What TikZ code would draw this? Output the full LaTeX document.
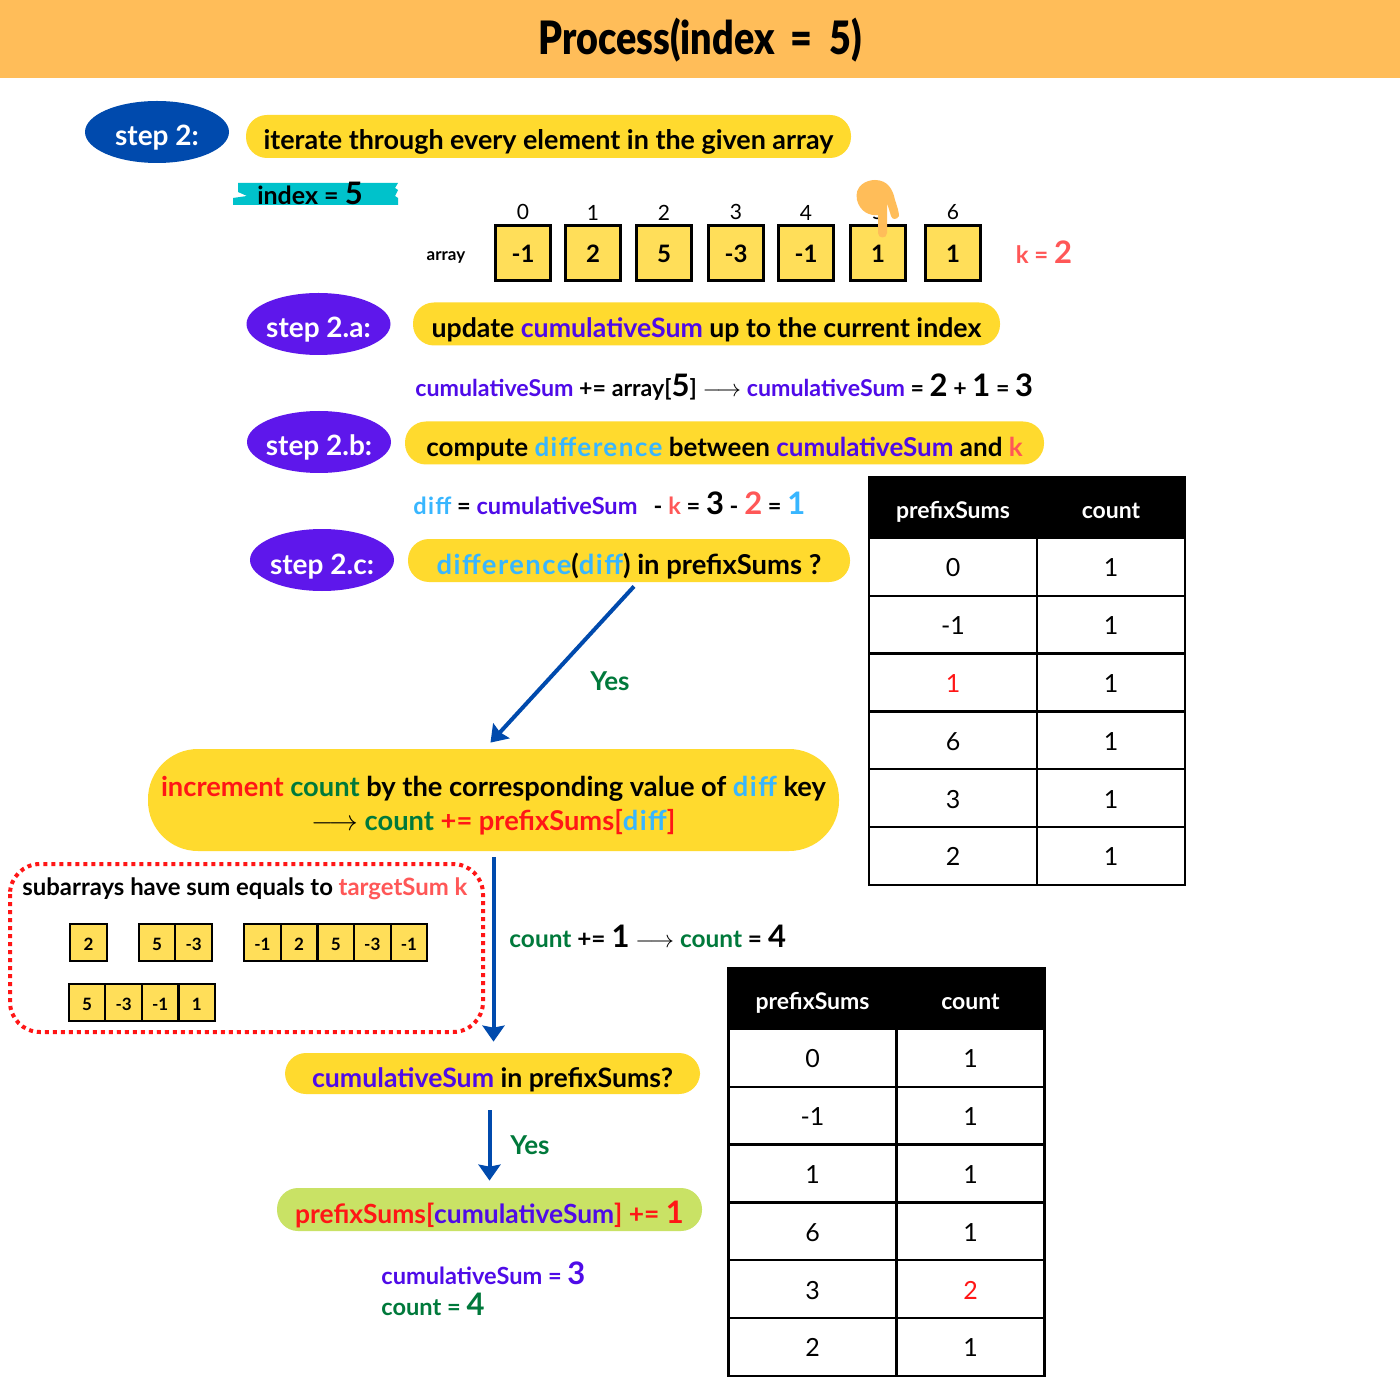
\documentclass[tikz,border=0pt]{standalone}
\usepackage{fontspec}
\setmainfont{Lato}
\newfontfamily\titlefont[FakeStretch=0.82]{Lato Black}
\usetikzlibrary{arrows.meta,positioning,shapes.geometric}
\definecolor{headbar}{HTML}{FFBD59}
\definecolor{ypill}{HTML}{FFDA2E}
\definecolor{ycell}{HTML}{FFDE59}
\definecolor{gpill}{HTML}{C9E265}
\definecolor{tagc}{HTML}{00C2CB}
\definecolor{flowc}{HTML}{004AAD}
\definecolor{stepc}{HTML}{5E17EB}
\definecolor{cumul}{HTML}{4F0BE8}
\definecolor{diffc}{HTML}{38B6FF}
\definecolor{redc}{HTML}{FF1616}
\definecolor{coral}{HTML}{FF5757}
\definecolor{greenc}{HTML}{00793B}
\newcommand{\csum}{\textcolor{cumul}{cumulativeSum}}
\newcommand{\fsz}[1]{\fontsize{#1}{#1}\selectfont}
\newcommand{\dg}[1]{{\fsz{15.5}#1}}
\newcommand{\dff}[1]{\textcolor{diffc}{\addfontfeature{LetterSpace=5.4}#1}}
\begin{document}
\begin{tikzpicture}[x=0.5pt,y=-0.5pt,>=Stealth,
	   txt/.style={font=\fsz{13}\bfseries, inner sep=0pt, align=left},
	   pill/.style={font=\fsz{13}\bfseries, inner sep=0pt, rectangle, rounded corners=10.5pt, fill=ypill, minimum height=21.5pt, text height=13.5pt, text depth=0pt},
	   blob/.style={ellipse, fill=stepc, text=white, font=\fsz{14}\bfseries, minimum width=72pt, minimum height=31pt, inner sep=-10pt, text height=14pt, text depth=0pt},
	   cell/.style={draw, line width=1.4pt, fill=ycell, minimum width=27.5pt, minimum height=27.5pt, outer sep=0pt, inner sep=0pt, font=\fsz{12}\bfseries, text height=10pt, text depth=0pt},
	   mini/.style={cell, line width=1.1pt, minimum width=18.3pt, minimum height=18.5pt, font=\fsz{8.5}\bfseries, text height=7.5pt},
	   idx/.style={font=\fsz{10.5}, inner sep=0pt},
	   thead/.style={draw, fill=black, text=white, line width=1.2pt, minimum height=30.5pt, outer sep=0pt, inner sep=0pt, font=\fsz{11.5}\bfseries, text height=10.5pt, text depth=0pt},
	   tcell/.style={draw, line width=1.2pt, minimum height=28.9pt, outer sep=0pt, inner sep=0pt, font=\fsz{12.5}, text height=10pt, text depth=0pt},
	   flow/.style={->, draw=flowc, line width=2pt, >={Stealth[length=8pt,width=11pt,inset=1pt]}}]
	  \useasboundingbox (0,0) rectangle (1400,1400);
	  \fill[white] (0,0) rectangle (1400,1400);
	  % title
	  \node[fill=headbar, minimum width=700pt, minimum height=39pt, inner sep=0pt, font=\fsz{23}\titlefont, text height=16pt, text depth=0pt] (title) at (700,39) {Process(index\, =\, 5)};
	  % step 2
	  \node[blob, fill=flowc] (s2) at (157,132) {step 2:};
	  \node[pill, font=\fsz{13.45}\bfseries, minimum width=302.5pt] (iter) at (548.5,136.5) {iterate through every element in the given array};
	  \fill[tagc] (238,183) -- (398,183) -- (395,188) -- (398,190) -- (395,196) -- (398,198) -- (398,205) -- (233,205) -- (233,198) -- (247,196) -- (238,192) -- cycle;
	  \node[txt, font=\fsz{12.5}\bfseries] (idxlbl) at (310,193) {index = \dg{5}};
	  % array
	  \node[txt, font=\fsz{8.5}\bfseries] (arr) at (446,257) {array};
	  \foreach \i/\x/\v in {0/523/-1,1/593/2,2/664/5,3/736/-3,4/806/-1,5/878/1,6/953/1} {
	    \node[cell] (a\i) at (\x,253) {\v};
	    \node[idx, above=2.5pt of a\i] (n\i) {\i};
	  }
	  \node[txt, font=\fsz{12}\bfseries, text=coral] (kval) at (1044,252) {k = \dg{2}};
	  % pointing hand
	  \fill[headbar] (857,200) .. controls (854,186) and (866,180) .. (875,180) .. controls (888,180) and (893,190) .. (895,200) .. controls (897,206) and (899,212) .. (899,216) .. controls (897,220) and (892,220) .. (891,216) -- (887,203) -- (887,233) .. controls (887,239) and (878,239) .. (878,233) -- (878,215) .. controls (870,216) and (860,212) .. (857,200) -- cycle;
	  % step 2.a
	  \node[blob] (s2a) at (318.5,324) {step 2.a:};
	  \node[pill, font=\fsz{13.35}\bfseries, minimum width=293.5pt] (upd) at (706.5,324) {update \csum{} up to the current index};
	  \node[txt, anchor=west, font=\fsz{11.6}\bfseries] (upd1) at (415,387) {\csum{} += array[\dg{5}] $\longrightarrow$ \csum{} = \dg{2} + \dg{1} = \dg{3}};
	  % step 2.b
	  \node[blob] (s2b) at (319,442) {step 2.b:};
	  \node[pill, minimum width=319.5pt] (comp) at (724.5,443) {compute \dff{difference} between \csum{} and \textcolor{coral}{k}};
	  \node[txt, anchor=west, font=\fsz{11.8}\bfseries] (diff1) at (413,503) {\dff{diff} = \csum{}\;\, - \textcolor{coral}{k} = \dg{3} - \textcolor{coral}{\dg{2}} = \textcolor{diffc}{\dg{1}}};
	  % step 2.c
	  \node[blob] (s2c) at (322,560) {step 2.c:};
	  \node[pill, font=\fsz{13.7}\bfseries, minimum width=221pt] (qdiff) at (629,560.5) {\dff{difference}(\dff{diff}) in prefixSums ?};
	  \node[pill, font=\fsz{13.65}\bfseries, rounded corners=25pt, minimum width=345.5pt, minimum height=51pt, align=center, text height=, text depth=] (inc) at (493.5,800) {\rule{0pt}{16pt}\textcolor{redc}{increment} \textcolor{greenc}{count} by the corresponding value of \dff{diff} key\\[3.5pt] $\longrightarrow$ \textcolor{greenc}{count} \textcolor{redc}{+= prefixSums[}\dff{diff}\textcolor{redc}{]}};
	  \draw[flow] ([xshift=2.5pt,yshift=-2pt]qdiff.south) -- ([xshift=-1.5pt,yshift=3pt]inc.north);
	  \node[txt, text=greenc] (yes1) at (610,681) {Yes};
	  % subarrays
	  \draw[draw=redc, line width=2pt, dash pattern=on 2pt off 2pt, rounded corners=15pt] (10,864) rectangle (483,1032);
	  \node[txt, anchor=west, font=\fsz{11.95}\bfseries] (subttl) at (22,889) {subarrays have sum equals to \textcolor{coral}{targetSum k}};
	  \node[mini] (m1) at (88.5,942.5) {2};
	  \node[mini] (m2) at (157,942.5) {5};
	  \node[mini, right=0pt of m2] (m3) {-3};
	  \node[mini] (m4) at (262.5,942.5) {-1};
	  \node[mini, right=0pt of m4] (m5) {2};
	  \node[mini, right=0pt of m5] (m6) {5};
	  \node[mini, right=0pt of m6] (m7) {-3};
	  \node[mini, right=0pt of m7] (m8) {-1};
	  \node[mini] (m9) at (87,1002.5) {5};
	  \node[mini, right=0pt of m9] (m10) {-3};
	  \node[mini, right=0pt of m10] (m11) {-1};
	  \node[mini, right=0pt of m11] (m12) {1};
	  % lower flow
	  \node[txt, anchor=west, font=\fsz{12.2}\bfseries, text=greenc] (cnt1) at (509,936) {count \textcolor{black}{+= \dg{1} $\longrightarrow$} count \textcolor{black}{= \dg{4}}};
	  \node[pill, font=\fsz{13.35}\bfseries, minimum width=207.5pt, minimum height=20.5pt] (cum) at (492.5,1073.5) {\csum{} in prefixSums?};
	  \draw[flow] ([yshift=-3pt]inc.south) -- ([yshift=5.5pt]inc.south |- cum.north);
	  \node[pill, font=\fsz{13.2}\bfseries, fill=gpill, minimum width=212.5pt] (pf) at (489.5,1209.5) {\textcolor{redc}{prefixSums[}\csum\textcolor{redc}{] += \dg{1}}};
	  \draw[flow] ([yshift=-8pt]pf.north |- cum.south) -- ([yshift=3.5pt]pf.north);
	  \node[txt, text=greenc] (yes2) at (530,1145) {Yes};
	  \node[txt, anchor=west, font=\fsz{11.8}\bfseries, text=cumul] (fin1) at (381,1273) {cumulativeSum = \dg{3}};
	  \node[txt, anchor=west, font=\fsz{11.8}\bfseries, text=greenc] (fin2) at (381,1304) {count = \dg{4}};
	  % first table
	  \node[thead, minimum width=84pt] (hp) at (953,507.5) {prefixSums};
	  \node[thead, minimum width=74pt, right=0pt of hp] (hc) {count};
	  \foreach \i/\p/\c/\u/\w in {1/0/1/hp/hc,2/-1/1/p1/c1,3/\textcolor{redc}{1}/1/p2/c2,4/6/1/p3/c3,5/3/1/p4/c4,6/2/1/p5/c5} {
	    \node[tcell, minimum width=84pt, below=0pt of \u] (p\i) {\p};
	    \node[tcell, minimum width=74pt, below=0pt of \w] (c\i) {\c};
	  }
	  % second table
	  \node[thead, minimum width=84pt] (hq) at (812.5,998.5) {prefixSums};
	  \node[thead, minimum width=74pt, right=0pt of hq] (hd) {count};
	  \foreach \i/\p/\c/\u/\w in {1/0/1/hq/hd,2/-1/1/q1/d1,3/1/1/q2/d2,4/6/1/q3/d3,5/3/\textcolor{redc}{2}/q4/d4,6/2/1/q5/d5} {
	    \node[tcell, minimum width=84pt, below=0pt of \u] (q\i) {\p};
	    \node[tcell, minimum width=74pt, below=0pt of \w] (d\i) {\c};
	  }
	\end{tikzpicture}
\end{document}
